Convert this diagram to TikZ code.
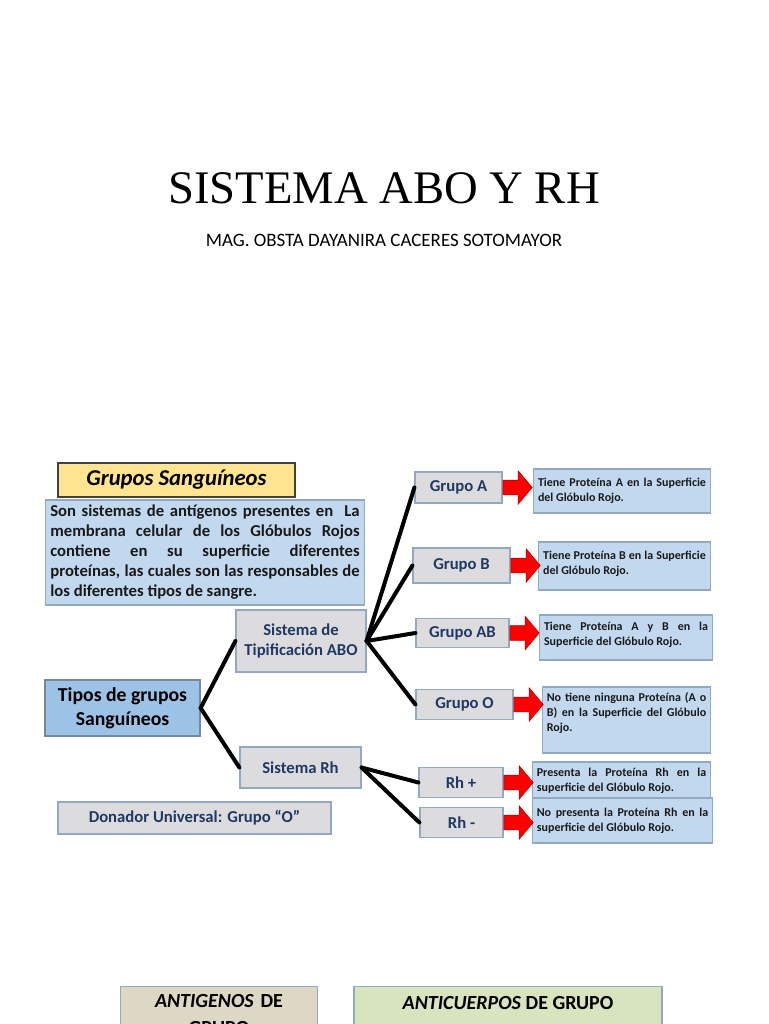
\documentclass[tikz,border=0pt]{standalone}
\usepackage{fontspec}
\setmainfont{Carlito}
\newfontfamily\titulofont{Liberation Serif}
\usetikzlibrary{positioning,shapes.arrows}
\definecolor{azulosc}{HTML}{1F3864}
\definecolor{grisclaro}{HTML}{DCDCDE}
\definecolor{bordegris}{HTML}{93A9C2}
\definecolor{celeste}{HTML}{C2D8EF}
\definecolor{azulmedio}{HTML}{9CC2E5}
\definecolor{amarillo}{HTML}{FFE592}
\definecolor{beige}{HTML}{DDD8C4}
\definecolor{verdeclaro}{HTML}{D8E4BD}

\begin{document}
\begin{tikzpicture}[x=0.75pt,y=-0.75pt,
  caja/.style={draw=bordegris,line width=0.9pt,fill=grisclaro,align=center,inner sep=2pt,
    text=azulosc,font=\bfseries\fontsize{12.5}{15}\selectfont},
  grupo/.style={caja,minimum height=22pt},
  nota/.style={draw=bordegris,line width=0.9pt,fill=celeste,align=justify,inner sep=3.5pt,
    text=black!90,font=\bfseries\fontsize{9}{11.25}\selectfont},
  flecha/.style={single arrow,fill=red,draw=red!70!black,line width=0.4pt,inner xsep=0pt,
    inner ysep=5.25pt,minimum height=22pt,minimum width=24pt,single arrow tip angle=100},
  rama/.style={line width=3pt,line cap=round}]
  % Sistema ABO y Rh: lamina con el mapa de grupos sanguineos
  \useasboundingbox (0,0) rectangle (768,1024);
  \clip (0,0) rectangle (768,1024);

  \node[anchor=base,font=\titulofont\fontsize{35}{40}\selectfont] (titulo) at (384,203) {SISTEMA ABO Y RH};
  \node[anchor=base,font=\fontsize{14.2}{17}\selectfont] (autora) at (384,246) {MAG. OBSTA DAYANIRA CACERES SOTOMAYOR};

  \node[draw=black!75,line width=1.8pt,fill=amarillo,minimum width=177.75pt,minimum height=25.5pt,
    font=\bfseries\itshape\fontsize{17}{20}\selectfont] (grupos) at (176.5,480) {Grupos Sanguíneos};
  \node[nota,text width=232pt,minimum height=78.75pt,fill=celeste,
    font=\bfseries\fontsize{12.5}{15}\selectfont] (definicion) at (205,552.5)
    {Son sistemas de antígenos presentes en\ \ La\linebreak
     membrana celular de los Glóbulos Rojos\linebreak
     contiene en su superficie diferentes\linebreak
     proteínas, las cuales son las responsables de\linebreak
     los diferentes tipos de sangre.};

  \node[caja,fill=azulmedio,draw=bordegris!80!black,text=black,minimum width=116.25pt,minimum height=42pt,
    font=\bfseries\fontsize{14.8}{18}\selectfont] (tipos) at (122.5,708) {Tipos de grupos\\Sanguíneos};
  \node[caja,minimum width=97.5pt,minimum height=46.5pt] (abo) at (301,641) {Sistema de\\Tipificación ABO};
  \node[caja,minimum width=90.75pt,minimum height=30.75pt] (rh) at (300.5,767.5) {Sistema Rh};
  \node[caja,minimum width=204.75pt,minimum height=24pt] (donador) at (194.5,818) {Donador Universal: Grupo “O”};

  \node[grupo,minimum width=65.25pt,minimum height=23.25pt] (ga) at (458.5,487.5) {Grupo A};
  \node[grupo,minimum width=72.75pt,minimum height=26.25pt] (gb) at (461.5,565.5) {Grupo B};
  \node[grupo,minimum width=69.75pt] (gab) at (462.5,633) {Grupo AB};
  \node[grupo,minimum width=72.75pt] (go) at (464.5,704.5) {Grupo O};
  \node[grupo,minimum width=63pt] (rhp) at (461,782.5) {Rh +};
  \node[grupo,minimum width=62.25pt] (rhm) at (461.5,822.5) {Rh -};

  \node[nota,text width=126pt,minimum height=33pt] (da) at (622,491)
    {Tiene Proteína A en la Superficie del Glóbulo Rojo.};
  \node[nota,text width=122pt,minimum height=36pt] (db) at (624.5,566)
    {Tiene Proteína B en la Superficie\linebreak del Glóbulo Rojo.\par\vspace{3pt}};
  \node[nota,text width=123pt,minimum height=33.75pt] (dab) at (626,637.5)
    {Tiene Proteína A y B en la\linebreak Superficie del Glóbulo Rojo.\par\vspace{4pt}};
  \node[nota,text width=119.5pt,minimum height=49.5pt] (do) at (626.5,720)
    {No tiene ninguna Proteína (A o\linebreak B) en la Superficie del Glóbulo\linebreak Rojo.\par\vspace{10pt}};
  \node[nota,text width=127pt,minimum height=28.5pt] (drhp) at (621.5,781)
    {Presenta la Proteína Rh en la\linebreak superficie del Glóbulo Rojo.};
  \node[nota,text width=128.5pt,minimum height=33.75pt] (drhm) at (622.5,820.5)
    {No presenta la Proteína Rh en la\linebreak superficie del Glóbulo Rojo.};

  \node[flecha,right=0pt of ga] (fa) {};
  \node[flecha,right=0pt of gb] (fb) {};
  \node[flecha,right=0pt of gab] (fab) {};
  \node[flecha,right=0pt of go] (fo) {};
  \node[flecha,right=0pt of rhp] (frhp) {};
  \node[flecha,right=0pt of rhm] (frhm) {};

  \draw[rama] (tipos.east) -- (abo.west);
  \draw[rama] (tipos.east) -- (rh.west);
  \draw[rama] (abo.east) -- (ga.west);
  \draw[rama] (abo.east) -- (gb.west);
  \draw[rama] (abo.east) -- (gab.west);
  \draw[rama] (abo.east) -- (go.west);
  \draw[rama] (rh.east) -- (rhp.west);
  \draw[rama] (rh.east) -- (rhm.west);

  \node[anchor=north,draw=bordegris,line width=0.9pt,fill=beige,text width=140pt,align=center,
    inner xsep=3.9pt,inner ysep=6pt,font=\bfseries\fontsize{15}{20}\selectfont] (antigenos) at (219,986)
    {\textit{ANTIGENOS} DE\\GRUPO};
  \node[anchor=north,draw=bordegris,line width=0.9pt,fill=verdeclaro,minimum width=231pt,
    inner ysep=6pt,text height=11pt,text depth=40pt,font=\bfseries\fontsize{15}{20}\selectfont] (anticuerpos) at (508,986)
    {\textit{ANTICUERPOS} DE GRUPO};
\end{tikzpicture}
\end{document}
